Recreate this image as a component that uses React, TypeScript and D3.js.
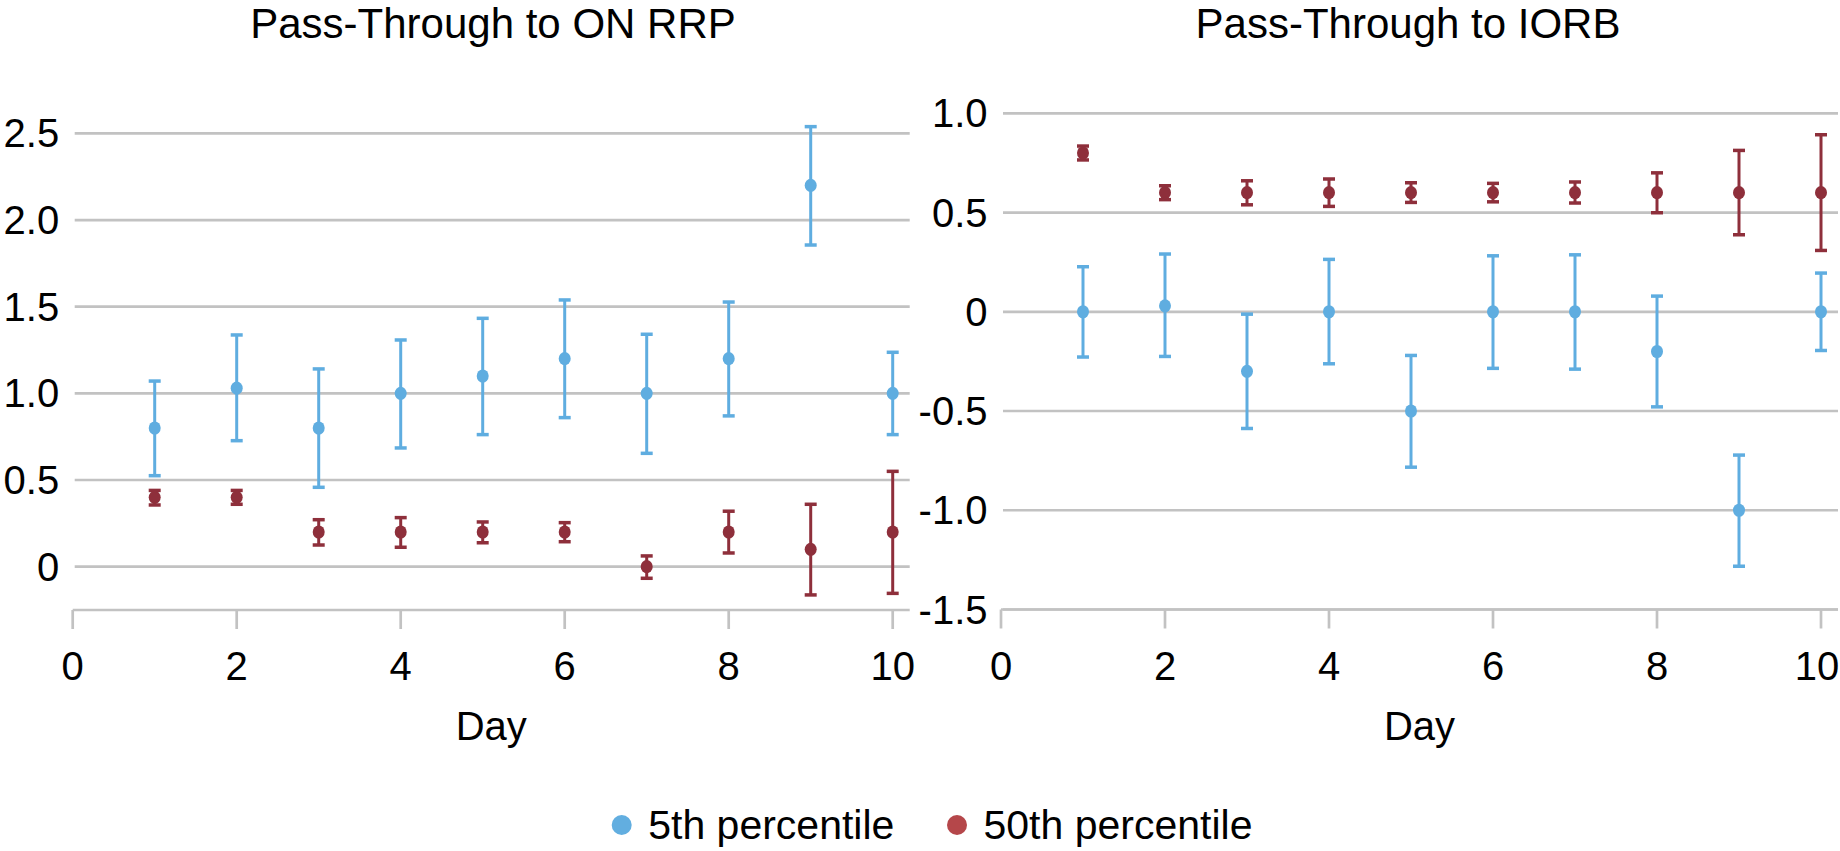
import React, { useRef, useEffect } from 'react';
import * as d3 from 'd3';

// Days on the x axis
const DAYS = [1, 2, 3, 4, 5, 6, 7, 8, 9, 10];
const X_TICKS = [0, 2, 4, 6, 8, 10];

// Pass-through to ON RRP
const RRP_Y_TICKS = [0, 0.5, 1.0, 1.5, 2.0, 2.5];
const RRP_P5 = [0.8, 1.03, 0.8, 1.0, 1.1, 1.2, 1.0, 1.2, 2.2, 1.0];
const RRP_P5_LO = [0.525, 0.727, 0.458, 0.685, 0.762, 0.86, 0.654, 0.87, 1.856, 0.762];
const RRP_P5_HI = [1.071, 1.337, 1.141, 1.308, 1.433, 1.539, 1.341, 1.527, 2.539, 1.237];
const RRP_P50 = [0.4, 0.4, 0.2, 0.2, 0.2, 0.2, 0.0, 0.2, 0.1, 0.2];
const RRP_P50_LO = [0.356, 0.36, 0.125, 0.112, 0.138, 0.144, -0.067, 0.079, -0.163, -0.154];
const RRP_P50_HI = [0.44, 0.44, 0.271, 0.283, 0.258, 0.254, 0.062, 0.32, 0.36, 0.55];

// Pass-through to IORB
const IORB_Y_TICKS = [-1.5, -1.0, -0.5, 0, 0.5, 1.0];
const IORB_P5 = [0.0, 0.03, -0.3, 0.0, -0.5, 0.0, 0.0, -0.2, -1.0, 0.0];
const IORB_P5_LO = [-0.228, -0.225, -0.588, -0.262, -0.783, -0.285, -0.289, -0.479, -1.282, -0.195];
const IORB_P5_HI = [0.227, 0.291, -0.012, 0.264, -0.22, 0.282, 0.287, 0.079, -0.722, 0.195];
const IORB_P50 = [0.8, 0.6, 0.6, 0.6, 0.6, 0.6, 0.6, 0.6, 0.6, 0.6];
const IORB_P50_LO = [0.765, 0.565, 0.539, 0.531, 0.551, 0.554, 0.548, 0.499, 0.388, 0.309];
const IORB_P50_HI = [0.835, 0.635, 0.66, 0.669, 0.65, 0.647, 0.654, 0.70, 0.813, 0.892];

const SERIES_LABELS = ['5th percentile', '50th percentile'];

const BLUE = '#5FADE0';
const RED = '#8E2F3B';
const LEGEND_COLORS = ['#62AEE0', '#B5474A'];
const GRID = '#C2C2C2';
const FONT = '"Liberation Sans", Arial, Helvetica, sans-serif';

const WIDTH = 1840;
const HEIGHT = 851;

interface Series {
  mid: number[];
  lo: number[];
  hi: number[];
  color: string;
}

interface Panel {
  title: string;
  titleX: number;
  left: number;
  yTicks: number[];
  yDomain: [number, number];
  yRange: [number, number];
  series: Series[];
}

const PANELS: Panel[] = [
  {
    title: 'Pass-Through to ON RRP',
    titleX: 493,
    left: 72.7,
    yTicks: RRP_Y_TICKS,
    yDomain: [-0.25, 2.5],
    yRange: [610, 133.4],
    series: [
      { mid: RRP_P5, lo: RRP_P5_LO, hi: RRP_P5_HI, color: BLUE },
      { mid: RRP_P50, lo: RRP_P50_LO, hi: RRP_P50_HI, color: RED },
    ],
  },
  {
    title: 'Pass-Through to IORB',
    titleX: 1408,
    left: 1001,
    yTicks: IORB_Y_TICKS,
    yDomain: [-1.5, 1.0],
    yRange: [609.5, 113.3],
    series: [
      { mid: IORB_P5, lo: IORB_P5_LO, hi: IORB_P5_HI, color: BLUE },
      { mid: IORB_P50, lo: IORB_P50_LO, hi: IORB_P50_HI, color: RED },
    ],
  },
];

// plain hyphen for negatives, bare "0" at zero
const fmtY = (d: number) => (d === 0 ? '0' : d.toFixed(1));

export default function App() {
  const svgRef = useRef<SVGSVGElement>(null);

  useEffect(() => {
    if (!svgRef.current) return;
    const svg = d3.select(svgRef.current);
    svg.selectAll('*').remove();
    svg.append('rect').attr('width', WIDTH).attr('height', HEIGHT).attr('fill', '#fff');

    PANELS.forEach(p => {
      const xScale = d3.scaleLinear().domain([0, 10]).range([p.left, p.left + 820]);
      const plotRight = p.left + 837;
      const yScale = d3.scaleLinear().domain(p.yDomain).range(p.yRange);
      const axisY = p.yRange[0];
      const g = svg.append('g');

      // Title
      g.append('text')
        .attr('x', p.titleX)
        .attr('y', 38)
        .attr('text-anchor', 'middle')
        .style('font-family', FONT)
        .style('font-size', '42px')
        .style('fill', '#000')
        .text(p.title);

      // Gridlines
      g.selectAll('.grid')
        .data(p.yTicks)
        .enter().append('line')
        .attr('x1', p.left + 2)
        .attr('x2', plotRight)
        .attr('y1', d => yScale(d))
        .attr('y2', d => yScale(d))
        .attr('stroke', GRID)
        .attr('stroke-width', 2.7);

      // Y tick labels
      g.selectAll('.ylab')
        .data(p.yTicks)
        .enter().append('text')
        .attr('x', p.left - 13.5)
        .attr('y', d => yScale(d))
        .attr('dy', '0.35em')
        .attr('text-anchor', 'end')
        .style('font-family', FONT)
        .style('font-size', '40px')
        .style('fill', '#000')
        .text(d => fmtY(d));

      // X axis line and ticks
      g.append('line')
        .attr('x1', p.left)
        .attr('x2', plotRight)
        .attr('y1', axisY)
        .attr('y2', axisY)
        .attr('stroke', GRID)
        .attr('stroke-width', 2.7);

      g.selectAll('.xtick')
        .data(X_TICKS)
        .enter().append('line')
        .attr('x1', d => xScale(d))
        .attr('x2', d => xScale(d))
        .attr('y1', axisY)
        .attr('y2', axisY + 19)
        .attr('stroke', GRID)
        .attr('stroke-width', 2.7);

      g.selectAll('.xlab')
        .data(X_TICKS)
        .enter().append('text')
        .attr('x', d => Math.min(xScale(d), WIDTH - 23))
        .attr('y', 680)
        .attr('text-anchor', 'middle')
        .style('font-family', FONT)
        .style('font-size', '40px')
        .style('fill', '#000')
        .text(d => String(d));

      g.append('text')
        .attr('x', (p.left + plotRight) / 2)
        .attr('y', 740)
        .attr('text-anchor', 'middle')
        .style('font-family', FONT)
        .style('font-size', '40px')
        .style('fill', '#000')
        .text('Day');

      // Error bars with points
      p.series.forEach(s => {
        const sg = g.append('g');
        const rows = DAYS.map((d, i) => ({ day: d, mid: s.mid[i], lo: s.lo[i], hi: s.hi[i] }));

        sg.selectAll('.whisker')
          .data(rows)
          .enter().append('line')
          .attr('x1', d => xScale(d.day))
          .attr('x2', d => xScale(d.day))
          .attr('y1', d => yScale(d.hi))
          .attr('y2', d => yScale(d.lo))
          .attr('stroke', s.color)
          .attr('stroke-width', 3);

        ['hi', 'lo'].forEach(k => {
          sg.selectAll('.cap-' + k)
            .data(rows)
            .enter().append('line')
            .attr('x1', d => xScale(d.day) - 6)
            .attr('x2', d => xScale(d.day) + 6)
            .attr('y1', d => yScale(d[k as 'hi' | 'lo']))
            .attr('y2', d => yScale(d[k as 'hi' | 'lo']))
            .attr('stroke', s.color)
            .attr('stroke-width', 3.5);
        });

        sg.selectAll('.pt')
          .data(rows)
          .enter().append('ellipse')
          .attr('cx', d => xScale(d.day))
          .attr('cy', d => yScale(d.mid))
          .attr('rx', 6)
          .attr('ry', 6.6)
          .attr('fill', s.color);
      });
    });

    // Legend
    const legendX = [621.7, 957];
    const legend = svg.append('g');
    SERIES_LABELS.forEach((label, i) => {
      legend.append('circle')
        .attr('cx', legendX[i])
        .attr('cy', 825)
        .attr('r', 10)
        .attr('fill', LEGEND_COLORS[i]);
      legend.append('text')
        .attr('x', legendX[i] + 26.5)
        .attr('y', 839)
        .style('font-family', FONT)
        .style('font-size', '41px')
        .style('fill', '#000')
        .text(label);
    });
  }, []);

  return (
    <div style={{ position: 'absolute', left: 0, top: 0 }}>
      <svg ref={svgRef} width={WIDTH} height={HEIGHT} style={{ display: 'block' }} />
    </div>
  );
}
